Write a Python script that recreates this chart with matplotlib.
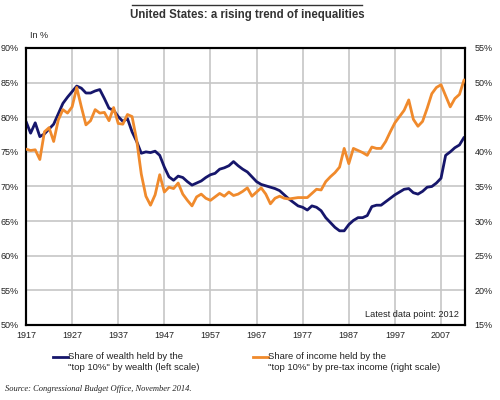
import matplotlib
matplotlib.use("Agg")
import matplotlib.pyplot as plt
import numpy as np

years = list(range(1917, 2013))

wealth = [79.4, 77.7, 79.2, 77.2, 77.6, 78.3, 79.0, 80.5, 82.0, 82.9,
          83.7, 84.5, 84.2, 83.5, 83.5, 83.8, 84.0, 82.7, 81.3, 81.0,
          80.1, 79.4, 79.8, 77.9, 76.5, 74.8, 75.0, 74.9, 75.1, 74.5,
          72.8, 71.4, 70.9, 71.5, 71.3, 70.7, 70.2, 70.5, 70.8, 71.3,
          71.7, 71.9, 72.5, 72.7, 73.0, 73.6, 73.0, 72.5, 72.1, 71.4,
          70.7, 70.3, 70.1, 69.9, 69.7, 69.4, 68.8, 68.2, 67.7, 67.2,
          67.0, 66.6, 67.2, 67.0, 66.5, 65.5, 64.8, 64.1, 63.6, 63.6,
          64.5, 65.1, 65.5, 65.5, 65.8, 67.1, 67.3, 67.3, 67.8, 68.3,
          68.8, 69.2, 69.6, 69.7, 69.1, 68.9, 69.3, 69.9, 70.0, 70.5,
          71.2, 74.5, 75.0, 75.6, 76.0, 77.1]

income = [40.4, 40.2, 40.3, 38.9, 42.9, 43.5, 41.5, 44.6, 46.1, 45.6,
          46.5, 49.3, 46.5, 43.9, 44.5, 46.1, 45.6, 45.7, 44.5, 46.4,
          44.1, 44.0, 45.4, 45.1, 41.7, 36.8, 33.6, 32.3, 33.8, 36.7,
          34.2, 34.9, 34.7, 35.5, 33.9, 33.0, 32.2, 33.5, 33.9, 33.3,
          33.0, 33.5, 34.0, 33.6, 34.2, 33.7, 33.9, 34.3, 34.8, 33.6,
          34.2, 34.8, 33.9, 32.5, 33.3, 33.6, 33.3, 33.2, 33.3, 33.4,
          33.4, 33.4, 34.0, 34.6, 34.5, 35.7, 36.4, 37.0, 37.8, 40.5,
          38.3, 40.5, 40.2, 39.9, 39.5, 40.7, 40.5, 40.5, 41.5, 42.9,
          44.2, 45.1, 46.0, 47.5, 44.7, 43.7, 44.4, 46.3, 48.4, 49.3,
          49.7, 48.1, 46.5, 47.7, 48.3, 50.4]

xticks = list(range(1917, 2008, 10))
left_ticks = [50, 55, 60, 65, 70, 75, 80, 85, 90]
right_ticks = [15, 20, 25, 30, 35, 40, 45, 50, 55]

title = "United States: a rising trend of inequalities"
wealth_label = 'Share of wealth held by the\n"top 10%" by wealth (left scale)'
income_label = 'Share of income held by the\n"top 10%" by pre-tax income (right scale)'
source = "Source: Congressional Budget Office, November 2014."

navy = "#16166b"
orange = "#f08a2c"
grid_c = "#c6c6c6"
txt_c = "#222222"

plt.rcParams['font.family'] = ['Liberation Sans', 'DejaVu Sans']

fig = plt.figure(figsize=(5, 4), dpi=100)
ax = fig.add_axes([0.052, 0.1875, 0.878, 0.6925])
ax2 = ax.twinx()

ax.set_xlim(1917, 2012.2)
ax.set_ylim(50, 90)
ax2.set_ylim(15, 55)

ax.set_xticks(xticks)
ax.set_xticklabels([str(x) for x in xticks])
ax.set_yticks(left_ticks)
ax.set_yticklabels([f"{v}%" for v in left_ticks])
ax2.set_yticks(right_ticks)
ax2.set_yticklabels([f"{v}%" for v in right_ticks])

ax.grid(True, color=grid_c, linewidth=1.2)
ax.set_axisbelow(True)

ax.plot(years, wealth, color=navy, linewidth=2.0, solid_capstyle='round',
        solid_joinstyle='round', zorder=3)
ax2.plot(years, income, color=orange, linewidth=2.0, solid_capstyle='round',
         solid_joinstyle='round', zorder=3)

for a in (ax, ax2):
    for s in a.spines.values():
        s.set_color('black')
        s.set_linewidth(1.5)
    a.tick_params(length=0, labelsize=6.5, colors=txt_c)
ax.tick_params(axis='y', pad=5)
ax.tick_params(axis='x', pad=4)
ax2.tick_params(axis='y', pad=7)

ax.text(0.985, 0.02, "Latest data point: 2012", transform=ax.transAxes,
        ha='right', va='bottom', fontsize=6.6, color=txt_c)

fig.text(0.06, 0.912, "In %", fontsize=6.5, color=txt_c, ha='left', va='center')

fig.text(0.494, 0.962, title, ha='center', va='center', fontsize=8.3,
         fontweight='bold', color='#333333')
fig.add_artist(plt.Line2D([0.264, 0.724], [0.987, 0.987], color='#333333',
                          linewidth=1.0, transform=fig.transFigure))

# legend
fig.add_artist(plt.Line2D([0.106, 0.136], [0.107, 0.107], color=navy,
                          linewidth=2.0, transform=fig.transFigure))
fig.text(0.136, 0.119, wealth_label, ha='left', va='top', fontsize=6.8,
         color=txt_c, linespacing=1.2)
fig.add_artist(plt.Line2D([0.506, 0.536], [0.107, 0.107], color=orange,
                          linewidth=2.0, transform=fig.transFigure))
fig.text(0.536, 0.119, income_label, ha='left', va='top', fontsize=6.8,
         color=txt_c, linespacing=1.2)

fig.text(0.01, 0.028, source, ha='left', va='center', fontsize=6.1,
         style='italic', family=['Liberation Serif', 'DejaVu Serif'],
         color=txt_c)

fig.savefig("out.png", dpi=100)
